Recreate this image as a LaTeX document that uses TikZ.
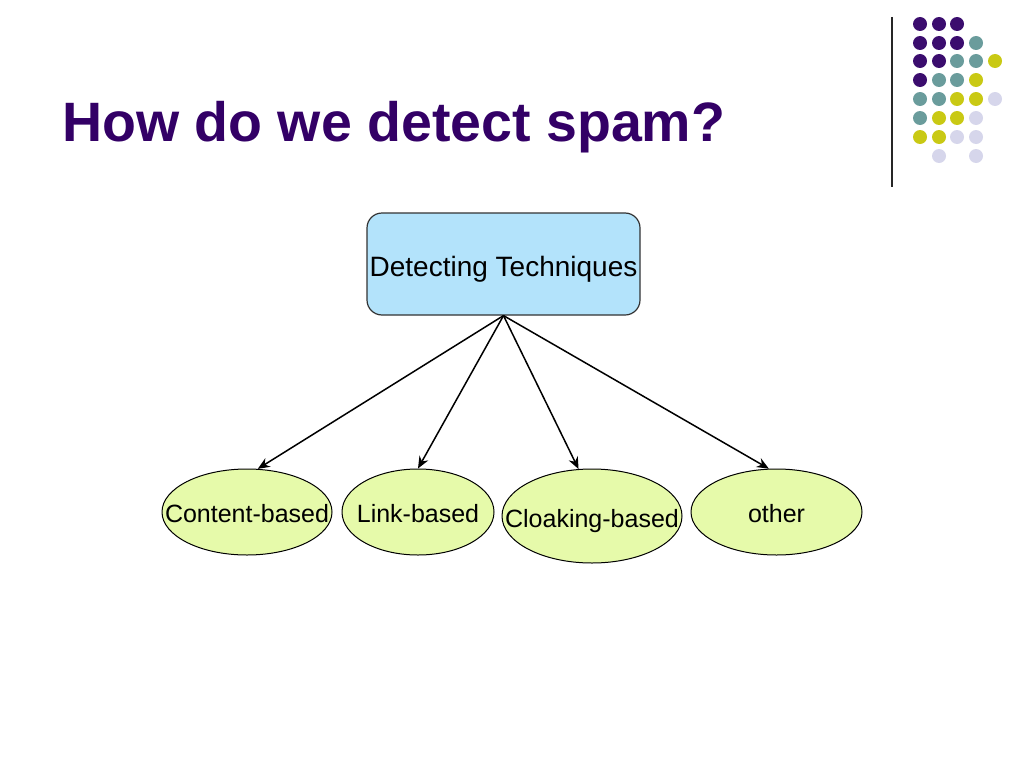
\documentclass[tikz,border=0pt]{standalone}
\usepackage{fontspec}
\setmainfont{Liberation Sans}
\usetikzlibrary{shapes.geometric,arrows.meta}
\definecolor{titlepurple}{HTML}{330066}
\definecolor{dotP}{HTML}{3B0D6E}
\definecolor{dotT}{HTML}{6A9C9C}
\definecolor{dotY}{HTML}{C9C914}
\definecolor{dotL}{HTML}{D6D6EB}
\definecolor{boxblue}{HTML}{B3E3FB}
\definecolor{ellgreen}{HTML}{E6FAAA}
\tikzset{
  titletext/.style={anchor=base west, inner sep=0pt, text=titlepurple, font=\fontsize{55.5}{60}\selectfont\bfseries},
  topbox/.style={draw=black!80, line width=1.2pt, fill=boxblue, rounded corners=15pt, minimum width=273pt, minimum height=102pt, inner sep=0pt},
  leaf/.style={ellipse, draw=black, line width=1pt, fill=ellgreen, inner sep=0pt},
  lbl/.style={font=\fontsize{25}{28}\selectfont, inner sep=0pt, anchor=base},
  conn/.style={line width=1.5pt, -{Stealth[length=12pt,width=10pt]}},
}
\begin{document}
\begin{tikzpicture}[x=1pt,y=-1pt]
\useasboundingbox (0,0) rectangle (1024,768);
% decorative dots
\foreach \c/\x/\y in {
 dotP/920/24, dotP/939/24, dotP/957/24,
 dotP/920/43, dotP/939/43, dotP/957/43, dotT/976/43,
 dotP/920/61, dotP/939/61, dotT/957/61, dotT/976/61, dotY/995/61,
 dotP/920/80, dotT/939/80, dotT/957/80, dotY/976/80,
 dotT/920/99, dotT/939/99, dotY/957/99, dotY/976/99, dotL/995/99,
 dotT/920/118, dotY/939/118, dotY/957/118, dotL/976/118,
 dotY/920/137, dotY/939/137, dotL/957/137, dotL/976/137,
 dotL/939/156, dotL/976/156}
 \fill[\c] (\x,\y) circle (7);
\draw[line width=1.3pt, black!85] (892,17) -- (892,187);
% title
\node[titletext] (title) at (62,141) {How do we detect spam?};
% diagram
\node[topbox] (dt) at (503.5,264) {};
\node[lbl, font=\fontsize{28}{30}\selectfont] (dtl) at (503.5,276) {Detecting Techniques};
\node[leaf, minimum width=170pt, minimum height=86pt] (cb) at (247,512) {};
\node[leaf, minimum width=152pt, minimum height=86pt] (lb) at (418,512) {};
\node[leaf, minimum width=180pt, minimum height=94pt] (kb) at (592,516) {};
\node[leaf, minimum width=171pt, minimum height=86pt] (ot) at (776.5,512) {};
\node[lbl] (cbl) at (247,522) {Content-based};
\node[lbl] (lbl) at (418,522) {Link-based};
\node[lbl] (kbl) at (592,527) {Cloaking-based};
\node[lbl] (otl) at (776.5,522) {other};
\draw[conn] (dt.south) -- (cb.76);
\draw[conn] (dt.south) -- (lb.north);
\draw[conn] (dt.south) -- (kb.106);
\draw[conn] (dt.south) -- (ot.100);
\end{tikzpicture}
\end{document}
